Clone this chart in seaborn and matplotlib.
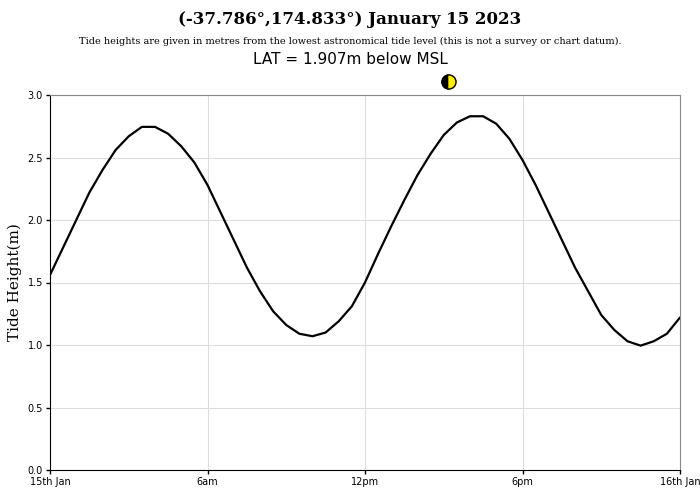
import matplotlib
matplotlib.use("Agg")
import matplotlib.pyplot as plt
import seaborn as sns
import pandas as pd
from matplotlib.patches import Wedge, Circle

hours = [i * 0.5 for i in range(49)]
heights = [1.56, 1.78, 2.00, 2.22, 2.40, 2.56, 2.67, 2.745, 2.745, 2.69,
           2.59, 2.46, 2.28, 2.06, 1.84, 1.62, 1.43, 1.27, 1.16, 1.09,
           1.07, 1.10, 1.19, 1.31, 1.50, 1.73, 1.95, 2.16, 2.36, 2.53,
           2.68, 2.78, 2.83, 2.83, 2.77, 2.65, 2.48, 2.28, 2.06, 1.84,
           1.62, 1.43, 1.24, 1.12, 1.03, 0.995, 1.03, 1.09, 1.22]
xtick_pos = [0, 6, 12, 18, 24]
xtick_labels = ["15th Jan", "6am", "12pm", "6pm", "16th Jan"]
ytick_pos = [0.0, 0.5, 1.0, 1.5, 2.0, 2.5, 3.0]

df = pd.DataFrame({"hour": hours, "height": heights})
sns.set_style("white")
fig = plt.figure(figsize=(7, 5), dpi=100)
ax = fig.add_axes([50/700, 30/500, 630/700, 375/500])
sns.lineplot(data=df, x="hour", y="height", ax=ax, color="black", linewidth=1.6)
ax.set_xlim(0, 24)
ax.set_ylim(0, 3.0)
ax.set_xticks(xtick_pos)
ax.set_xticklabels(xtick_labels, fontsize=7, family="DejaVu Sans")
ax.set_yticks(ytick_pos)
ax.set_yticklabels([f"{v:.1f}" for v in ytick_pos], fontsize=7, family="DejaVu Sans")
ax.grid(True, color="#dddddd", linewidth=0.8)
ax.set_xlabel("")
ax.set_ylabel("Tide Height(m)", family="DejaVu Serif", fontsize=11, color="black")
for s in ["top", "right"]:
    ax.spines[s].set_color("#888888")
for s in ["left", "bottom"]:
    ax.spines[s].set_color("black")
ax.tick_params(axis="both", length=3, width=1, colors="black", direction="out", pad=2)
ax.tick_params(bottom=True, left=True)

fig.text(0.5, 1 - 19/500, "(-37.786°,174.833°) January 15 2023", ha="center", va="center",
         family="DejaVu Serif", fontweight="bold", fontsize=12, color="black")
fig.text(0.5, 1 - 41/500, "Tide heights are given in metres from the lowest astronomical tide level (this is not a survey or chart datum).",
         ha="center", va="center", family="DejaVu Serif", fontsize=7, color="black")
fig.text(0.5, 1 - 60/500, "LAT = 1.907m below MSL", ha="center", va="center",
         family="DejaVu Sans", fontsize=11, color="black")
mx = fig.add_axes([(449-8)/700, 1-(82+8)/500, 16/700, 16/500])
mx.set_xlim(-8, 8); mx.set_ylim(-8, 8); mx.axis("off")
mx.add_patch(Wedge((0, 0), 7, 90, 270, color="black"))
mx.add_patch(Wedge((0, 0), 7, 270, 90, color="#ffee00"))
mx.add_patch(Circle((0, 0), 7, fill=False, edgecolor="black", linewidth=1))
fig.savefig("out.png", dpi=100)
